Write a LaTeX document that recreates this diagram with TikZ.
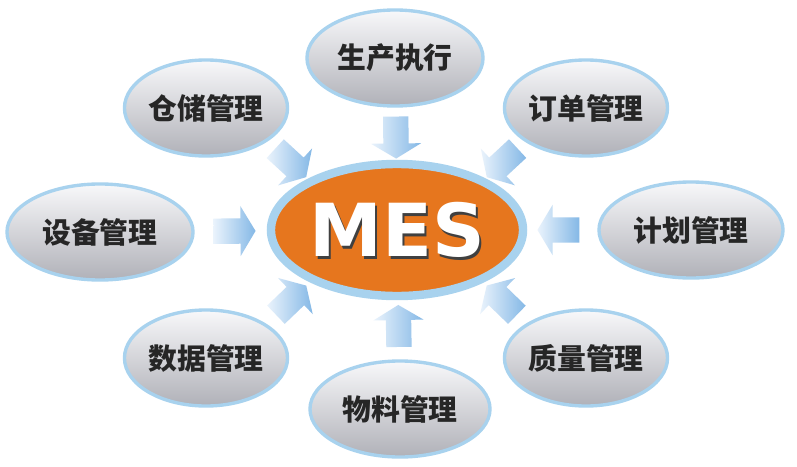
\documentclass[tikz,border=0pt]{standalone}
\usepackage{fontspec}
\newfontfamily\zhfont{Noto Sans CJK SC}
\newfontfamily\mesfont{DejaVu Sans}
\usetikzlibrary{shapes.geometric,shapes.arrows}

\definecolor{mesorange}{RGB}{230,118,30}
\definecolor{ringblue}{RGB}{168,210,238}
\definecolor{balltop}{RGB}{248,248,250}
\definecolor{ballbot}{RGB}{176,177,184}
\definecolor{arrowtail}{RGB}{234,243,252}
\definecolor{arrowtip}{RGB}{132,184,230}
\definecolor{labelgray}{RGB}{38,38,38}

\tikzset{
  module/.style={ellipse, draw=ringblue, line width=2.4pt, top color=balltop, bottom color=ballbot,
    minimum height=2.4cm, inner sep=0pt, text=labelgray,
    font=\zhfont\bfseries\fontsize{20.5}{24}\selectfont},
  core/.style={ellipse, draw=ringblue, line width=6pt, fill=mesorange,
    minimum width=6.3cm, minimum height=3.3cm, inner sep=0pt},
  mestext/.style={font=\mesfont\bfseries\fontsize{52}{60}\selectfont, inner sep=0pt},
  inarrow/.style={single arrow, single arrow head extend=0.31cm, single arrow tip angle=118,
    minimum height=1.05cm, inner xsep=0pt, inner ysep=0.31cm,
    left color=arrowtail, right color=arrowtip}
}

\begin{document}
\begin{tikzpicture}[x=0.025cm, y=-0.025cm]
        \fill[white] (0,0) rectangle (797,467);
        \useasboundingbox (0,0) rectangle (797,467);

        % Center ellipse
        \node[core] (mes) at (397,230) {};
        \node[mestext, text=black!75] (mes-shadow) at ([shift={(2.5,2.5)}]mes) {MES};
        \node[mestext, text=white] (mes-label) at (mes) {MES};

        % Modules around the center
        \foreach \name/\x/\y/\w/\txt in {prod/395/58/4.4/生产执行, store/206/108/3.55/仓储管理,
            order/586/108/3.55/订单管理, equip/100/232/4.65/设备管理, plan/691/230/4.6/计划管理,
            data/206/358/3.55/数据管理, qual/586/358/3.55/质量管理, mat/400/409/4.5/物料管理} {
            \node[module, minimum width=\w cm] (\name) at (\x,\y) {\txt};
        }

        % Arrows pointing in
        \foreach \name/\tilt in {prod/0, store/-10, order/10, equip/0, plan/0, data/10, qual/-10, mat/0} {
            \path (\name) -- node[inarrow, sloped, allow upside down, rotate=\tilt] (to-\name) {} (mes);
        }

    \end{tikzpicture}
\end{document}
